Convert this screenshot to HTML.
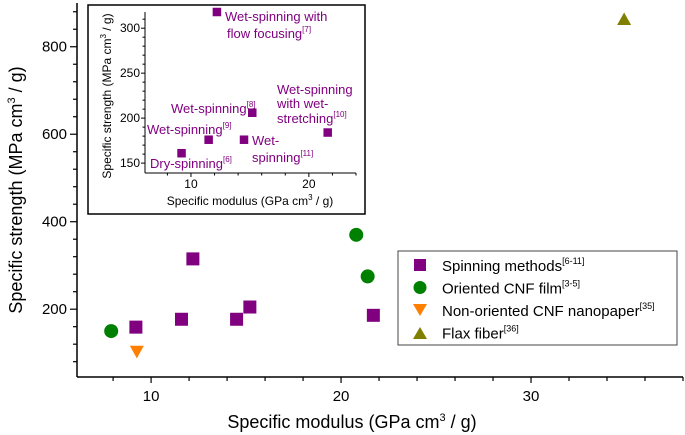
<!DOCTYPE html>
<html><head><meta charset="utf-8"><style>
html,body{margin:0;padding:0;background:#fff;}
svg{display:block;font-family:"Liberation Sans",Arial,sans-serif;}
</style></head><body>
<svg id="chart" width="685" height="435" viewBox="0 0 685 435"></svg>
<script>
// main chart data
const spinX = [9.2, 11.6, 12.2, 14.5, 15.2, 21.7];
const spinY = [159, 177, 315, 177, 205, 186];
const filmX = [7.9, 20.8, 21.4];
const filmY = [150, 370, 275];
const paperX = [9.25];
const paperY = [102];
const flaxX = [34.9];
const flaxY = [864];
const xTicks = [10, 20, 30];
const yTicks = [200, 400, 600, 800];
// inset data
const insetX = [9.2, 11.5, 12.2, 14.5, 15.2, 21.6];
const insetY = [161, 176, 318, 176, 206, 184];
const insetXTicks = [10, 20];
const insetYTicks = [150, 200, 250, 300];

const NS = "http://www.w3.org/2000/svg";
const svg = document.getElementById('chart');
function mk(tag, attrs, parent, text) {
  const e = document.createElementNS(NS, tag);
  for (const k in attrs) e.setAttribute(k, attrs[k]);
  if (text !== undefined) e.textContent = text;
  (parent || svg).appendChild(e);
  return e;
}
// main axes
const L = 77, R = 683, T = 3, B = 377;
const xmin = 6.1, xmax = 38, ymin = 45, ymax = 900;
const sx = v => L + (v - xmin) / (xmax - xmin) * (R - L);
const sy = v => B - (v - ymin) / (ymax - ymin) * (B - T);

const axes = mk('g', {});


mk('line', {x1: L, y1: T, x2: L, y2: B, stroke: '#000', 'stroke-width': 1.5}, axes);
mk('line', {x1: L, y1: B, x2: R, y2: B, stroke: '#000', 'stroke-width': 1.5}, axes);
for (let v = 8; v <= 38; v += 2) {
  const major = xTicks.includes(v);
  mk('line', {x1: sx(v), y1: B, x2: sx(v), y2: B + (major ? 6 : 4), stroke: '#000', 'stroke-width': 1.2}, axes);
}
for (let v = 80; v <= 880; v += 40) {
  const major = yTicks.includes(v);
  mk('line', {x1: L, y1: sy(v), x2: L - (major ? 7 : 4), y2: sy(v), stroke: '#000', 'stroke-width': 1.2}, axes);
}
xTicks.forEach(v => {
  const t = mk('text', {x: sx(v), y: B + 24, 'font-size': 15, 'text-anchor': 'middle', fill: '#000'}, axes, v);
  
  
});
yTicks.forEach(v => {
  const t = mk('text', {x: L - 10, y: sy(v) + 5, 'font-size': 15, 'text-anchor': 'end', fill: '#000'}, axes, v);
  
  
});
const xt = mk('text', {x: 352, y: 428, 'font-size': 18, 'text-anchor': 'middle', fill: '#000'}, svg);


xt.innerHTML = 'Specific modulus (GPa cm<tspan dy="-7" font-size="11">3</tspan><tspan dy="7"> / g)</tspan>';
const yt = mk('text', {x: 0, y: 0, 'font-size': 18, 'text-anchor': 'middle', fill: '#000', transform: 'translate(22,190) rotate(-90)'}, svg);


yt.innerHTML = 'Specific strength (MPa cm<tspan dy="-7" font-size="11">3</tspan><tspan dy="7"> / g)</tspan>';

const PUR = '#800080', GRN = '#008000', ORG = '#ff8000', OLV = '#808000';
function square(x, y, s, name, parent) {
  const e = mk('rect', {x: x - s / 2, y: y - s / 2, width: s, height: s, fill: PUR}, parent);
  
  
}
function circle(x, y, r, name) {
  const e = mk('circle', {cx: x, cy: y, r: r, fill: GRN});
  
  
}
function tri(x, y, s, down, color, name) {
  const h = s * 0.9;
  const pts = down ? `${x - s / 2},${y - h / 2} ${x + s / 2},${y - h / 2} ${x},${y + h / 2}`
                   : `${x - s / 2},${y + h / 2} ${x + s / 2},${y + h / 2} ${x},${y - h / 2}`;
  const e = mk('polygon', {points: pts, fill: color});
  
  
}
spinX.forEach((v, i) => square(sx(v), sy(spinY[i]), 13, 'spinning-point'));
filmX.forEach((v, i) => circle(sx(v), sy(filmY[i]), 7, 'cnf-film-point'));
paperX.forEach((v, i) => tri(sx(v), sy(paperY[i]), 14, true, ORG, 'nanopaper-point'));
flaxX.forEach((v, i) => tri(sx(v), sy(flaxY[i]), 14, false, OLV, 'flax-point'));

// legend
const lg = mk('g', {});


mk('rect', {x: 398, y: 251, width: 279, height: 94, fill: '#fff', stroke: '#444', 'stroke-width': 1}, lg);
const items = [
  ['Spinning methods', '[6-11]'], ['Oriented CNF film', '[3-5]'],
  ['Non-oriented CNF nanopaper', '[35]'], ['Flax fiber', '[36]']
];
items.forEach((it, i) => {
  const cy = 265 + i * 22.5;
  const t = mk('text', {x: 442, y: cy + 6, 'font-size': 15, fill: '#000'}, lg);
  
  
  t.innerHTML = it[0] + '<tspan dy="-7" font-size="9">' + it[1] + '</tspan>';
});
mk('rect', {x: 414, y: 259, width: 12, height: 12, fill: PUR}, lg);
mk('circle', {cx: 420, cy: 287.5, r: 6.5, fill: GRN}, lg);
mk('polygon', {points: '413,304 427,304 420,316', fill: ORG}, lg);
mk('polygon', {points: '413,339 427,339 420,327', fill: OLV}, lg);

// inset
const ins = mk('g', {});


mk('rect', {x: 88, y: 5, width: 277, height: 209, fill: '#fff', stroke: '#000', 'stroke-width': 1.5}, ins);
const iL = 145, iR = 356, iT = 12, iB = 173;
const ixmin = 6.1, ixmax = 24, iymin = 139, iymax = 318;
const isx = v => iL + (v - ixmin) / (ixmax - ixmin) * (iR - iL);
const isy = v => iB - (v - iymin) / (iymax - iymin) * (iB - iT);
mk('line', {x1: iL, y1: iT, x2: iL, y2: iB, stroke: '#000', 'stroke-width': 1}, ins);
mk('line', {x1: iL, y1: iB, x2: iR, y2: iB, stroke: '#000', 'stroke-width': 1}, ins);
for (let v = 8; v <= 24; v += 2) {
  mk('line', {x1: isx(v), y1: iB, x2: isx(v), y2: iB + (insetXTicks.includes(v) ? 4 : 2.5), stroke: '#000'}, ins);
}
for (let v = 150; v <= 310; v += 10) {
  mk('line', {x1: iL, y1: isy(v), x2: iL - (insetYTicks.includes(v) ? 4 : 2.5), y2: isy(v), stroke: '#000'}, ins);
}
insetXTicks.forEach(v => {
  const t = mk('text', {x: isx(v), y: iB + 15, 'font-size': 12, 'text-anchor': 'middle'}, ins, v);
  
  
});
insetYTicks.forEach(v => {
  const t = mk('text', {x: iL - 5, y: isy(v) + 4, 'font-size': 12, 'text-anchor': 'end'}, ins, v);
  
  
});
const ixt = mk('text', {x: 250, y: 205, 'font-size': 12, 'text-anchor': 'middle'}, ins);


ixt.innerHTML = 'Specific modulus (GPa cm<tspan dy="-5" font-size="8">3</tspan><tspan dy="5"> / g)</tspan>';
const iyt = mk('text', {x: 0, y: 0, 'font-size': 12, 'text-anchor': 'middle', transform: 'translate(111,96) rotate(-90)'}, ins);


iyt.innerHTML = 'Specific strength (MPa cm<tspan dy="-5" font-size="8">3</tspan><tspan dy="5"> / g)</tspan>';
insetX.forEach((v, i) => square(isx(v), isy(insetY[i]), 8.5, 'inset-spinning-point', ins));
const labels = [
  [225, 21, 'Wet-spinning with', ''], [227, 38, 'flow focusing', '[7]'],
  [171, 113, 'Wet-spinning', '[8]'],
  [277, 94, 'Wet-spinning', ''], [277, 108, 'with wet-', ''], [277, 123, 'stretching', '[10]'],
  [147, 134, 'Wet-spinning', '[9]'],
  [252, 145, 'Wet-', ''], [252, 162, 'spinning', '[11]'],
  [150, 168, 'Dry-spinning', '[6]']
];
labels.forEach(l => {
  const t = mk('text', {x: l[0], y: l[1], 'font-size': 13, fill: PUR}, ins);
  
  
  t.innerHTML = l[2] + (l[3] ? '<tspan dy="-6" font-size="8">' + l[3] + '</tspan>' : '');
});
</script>
</body></html>
